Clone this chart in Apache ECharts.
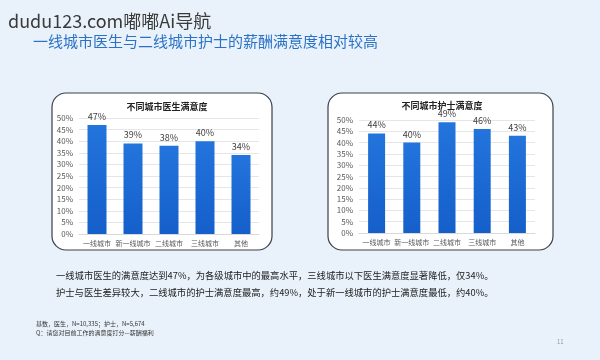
<!DOCTYPE html>
<html><head><meta charset="utf-8">
<script src="https://cdn.jsdelivr.net/npm/echarts@6/dist/echarts.min.js"></script>
<style>html,body{margin:0;padding:0;background:#e9f2fb;}#c{width:600px;height:360px;}</style>
</head><body><div id="c"></div>
<script>
const categories = ['一线城市','新一线城市','二线城市','三线城市','其他'];
const doctorValues = [47, 39, 38, 40, 34];
const nurseValues = [44, 40, 49, 46, 43];
const yMax = 50, yStep = 5;

const FONT = '"Noto Sans CJK SC", "Noto Sans", sans-serif';
const barColor = new echarts.graphic.LinearGradient(0,0,0,1,[{offset:0,color:'#2374dc'},{offset:1,color:'#155fca'}]);

const chart = echarts.init(document.getElementById('c'));
function yAx(i){return {gridIndex:i,type:'value',min:0,max:yMax,interval:yStep,
  axisLabel:{formatter:'{value}%',fontSize:8,color:'#595959',fontFamily:FONT,margin:6},
  splitLine:{lineStyle:{color:'#e6e6e6',width:1}},axisLine:{show:false},axisTick:{show:false}};}
function xAx(i){return {gridIndex:i,type:'category',data:categories,
  axisLabel:{fontSize:7,color:'#595959',fontFamily:FONT,margin:6,interval:0},
  axisLine:{lineStyle:{color:'#d9d9d9'}},axisTick:{show:false}};}
function ser(i,data,w){return {type:'bar',xAxisIndex:i,yAxisIndex:i,data:data,barWidth:w,
  itemStyle:{color:barColor},
  label:{show:true,position:'top',formatter:'{c}%',fontSize:9,color:'#404040',fontFamily:FONT,distance:4}};}

chart.setOption({
  backgroundColor:'#e9f2fb',
  animation:false,
  graphic:[
    {type:'rect',shape:{x:52,y:93,width:220,height:157,r:14},style:{fill:'#ffffff',stroke:'#3a4048',lineWidth:1.2},z:-1},
    {type:'rect',shape:{x:328,y:93,width:225,height:157,r:14},style:{fill:'#ffffff',stroke:'#3a4048',lineWidth:1.2},z:-1},
    {type:'text',left:8,top:12,style:{text:'dudu123.com嘟嘟Ai导航',font:'18px '+FONT,fill:'#3a3a3a'}},
    {type:'text',left:33,top:34,style:{text:'一线城市医生与二线城市护士的薪酬满意度相对较高',font:'15px '+FONT,fill:'#2b72c6'}},
    {type:'text',left:56,top:271,style:{text:'一线城市医生的满意度达到47%，为各级城市中的最高水平，三线城市以下医生满意度显著降低，仅34%。',font:'9.3px '+FONT,fill:'#222222'}},
    {type:'text',left:56,top:288,style:{text:'护士与医生差异较大，二线城市的护士满意度最高，约49%，处于新一线城市的护士满意度最低，约40%。',font:'9.3px '+FONT,fill:'#222222'}},
    {type:'text',left:36,top:321,style:{text:'基数，医生，N=10,335；护士，N=5,674',font:'6px '+FONT,fill:'#333333'}},
    {type:'text',left:36,top:330,style:{text:'Q：请您对目前工作的满意度打分—薪酬福利',font:'6px '+FONT,fill:'#333333'}},
    {type:'text',left:557,top:339,style:{text:'11',font:'6px '+FONT,fill:'#999999'}}
  ],
  title:[
    {text:'不同城市医生满意度',left:162,top:97,textAlign:'center',textStyle:{fontSize:9,fontWeight:'bold',color:'#222',fontFamily:FONT}},
    {text:'不同城市护士满意度',left:437,top:96,textAlign:'center',textStyle:{fontSize:9,fontWeight:'bold',color:'#222',fontFamily:FONT}}
  ],
  grid:[
    {left:79,right:341,top:118,bottom:126},
    {left:359,right:65,top:120,bottom:127}
  ],
  xAxis:[xAx(0),xAx(1)],
  yAxis:[yAx(0),yAx(1)],
  series:[ser(0,doctorValues,19),ser(1,nurseValues,17)]
});
</script></body></html>
